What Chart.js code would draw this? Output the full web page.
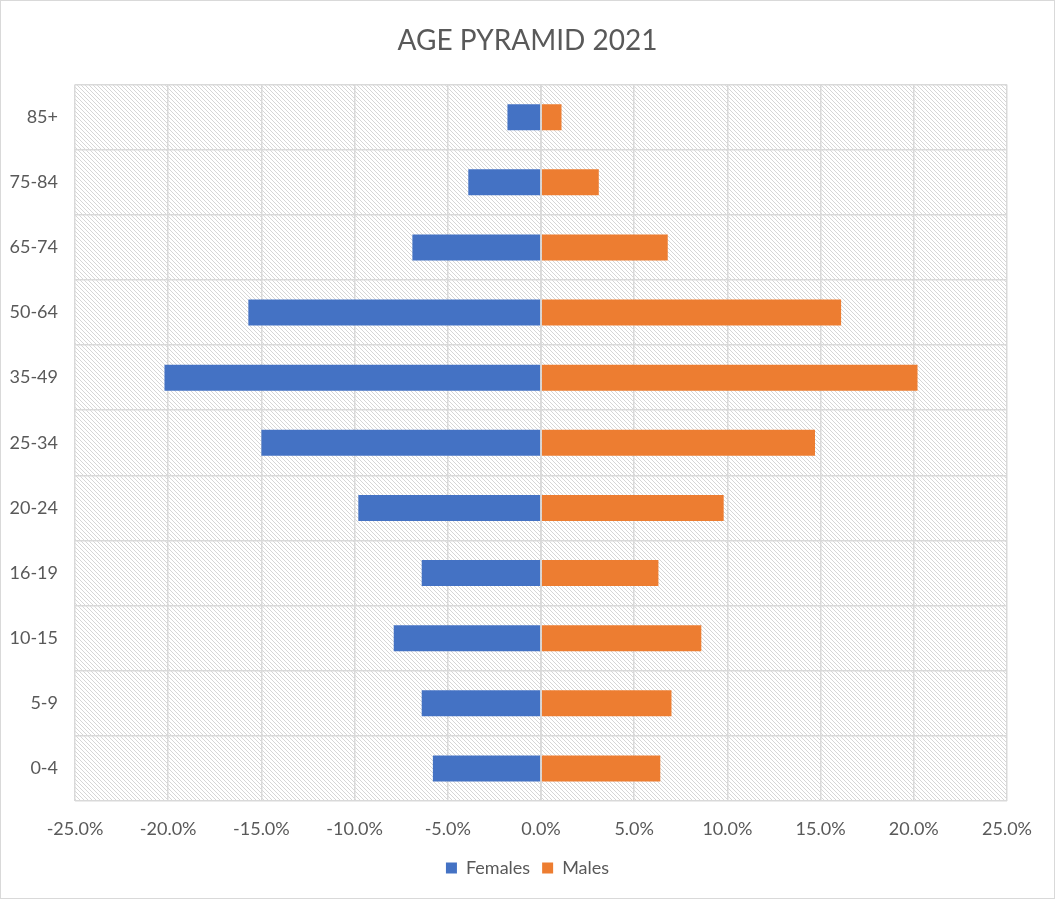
<!DOCTYPE html>
<html>
<head>
<meta charset="utf-8">
<script src="https://cdn.jsdelivr.net/npm/chart.js@4.4.1/dist/chart.umd.min.js"></script>
<style>
  html, body { margin: 0; padding: 0; background: #fff; }
  #wrap { width: 1055px; height: 899px; }
</style>
</head>
<body>
<div id="wrap"><canvas id="pyramid" width="1055" height="899"></canvas></div>
<script>
// age groups, top to bottom
const ageGroups = ['85+', '75-84', '65-74', '50-64', '35-49', '25-34', '20-24', '16-19', '10-15', '5-9', '0-4']
// share of population in %, females drawn to the left
const females = [-1.8, -3.9, -6.9, -15.7, -20.2, -15.0, -9.8, -6.4, -7.9, -6.4, -5.8]
const males = [1.1, 3.1, 6.8, 16.1, 20.2, 14.7, 9.8, 6.3, 8.6, 7.0, 6.4]
const xTicks = [-25, -20, -15, -10, -5, 0, 5, 10, 15, 20, 25]

const textColor = '#595959'
const gridColor = '#d9d9d9'

// diagonal hatch tile for the plot background
function hatchPattern(ctx) {
    let tile = document.createElement('canvas')
    tile.width = 4
    tile.height = 4
    let t = tile.getContext('2d')
    t.fillStyle = '#d6d6d6'
    for (let i = 0; i < 4; i++) {
        t.fillRect(i, i, 1, 1)
    }
    return ctx.createPattern(tile, 'repeat')
}

const backgroundPlugin = {
    id: 'hatchBackground',
    beforeDraw(chart) {
        let {ctx, chartArea: a, width, height} = chart
        ctx.save()
        ctx.fillStyle = '#fff'
        ctx.fillRect(0, 0, width, height)
        ctx.fillStyle = hatchPattern(ctx)
        ctx.fillRect(a.left, a.top, a.right - a.left, a.bottom - a.top)
        ctx.strokeStyle = gridColor
        ctx.lineWidth = 1
        ctx.strokeRect(0.5, 0.5, width - 1, height - 1)
        ctx.restore()
    },
    afterDatasetsDraw(chart) {
        // zero line stays visible between the two bars
        let {ctx, chartArea: a} = chart
        let x0 = chart.scales.x.getPixelForValue(0)
        ctx.save()
        ctx.strokeStyle = gridColor
        ctx.lineWidth = 1.5
        ctx.beginPath()
        ctx.moveTo(x0, a.top)
        ctx.lineTo(x0, a.bottom)
        ctx.stroke()
        ctx.restore()
    }
}

Chart.defaults.font.family = 'Lato, "Open Sans", sans-serif'
Chart.defaults.color = textColor

new Chart(document.getElementById('pyramid'), {
    type: 'bar',
    data: {
        labels: ageGroups,
        datasets: [
            {
                label: 'Females',
                data: females,
                backgroundColor: '#4472C4',
                barPercentage: 0.4,
                categoryPercentage: 1.0
            },
            {
                label: 'Males',
                data: males,
                backgroundColor: '#ED7D31',
                barPercentage: 0.4,
                categoryPercentage: 1.0
            }
        ]
    },
    options: {
        indexAxis: 'y',
        responsive: false,
        animation: false,
        layout: {
            padding: {left: 10, right: 10, top: 0, bottom: 12}
        },
        scales: {
            x: {
                stacked: true,
                min: -25,
                max: 25,
                afterBuildTicks(scale) {
                    scale.ticks = xTicks.map(v => ({value: v}))
                },
                afterFit(scale) {
                    scale.height = 46
                },
                ticks: {
                    padding: 17,
                    font: {size: 18},
                    callback: v => v.toFixed(1) + '%'
                },
                grid: {color: gridColor, lineWidth: 1.5, drawTicks: false},
                border: {display: false}
            },
            y: {
                stacked: true,
                afterFit(scale) {
                    scale.width = 65
                },
                ticks: {
                    padding: 17,
                    font: {size: 18}
                },
                grid: {color: gridColor, lineWidth: 1.5, drawTicks: false, offset: true},
                border: {display: false}
            },
            // empty right-hand spacer so title and legend sit centred on the canvas
            ySpacer: {
                type: 'category',
                position: 'right',
                afterFit(scale) {
                    scale.width = 38
                },
                ticks: {display: false},
                grid: {display: false},
                border: {display: false}
            }
        },
        plugins: {
            title: {
                display: true,
                text: 'AGE PYRAMID 2021',
                color: textColor,
                font: {size: 28, weight: 'normal'},
                padding: {top: 24, bottom: 27}
            },
            legend: {
                position: 'bottom',
                labels: {
                    boxWidth: 11,
                    boxHeight: 11,
                    padding: 12,
                    font: {size: 18}
                }
            },
            tooltip: {enabled: false}
        }
    },
    plugins: [backgroundPlugin]
})
</script>
</body>
</html>
